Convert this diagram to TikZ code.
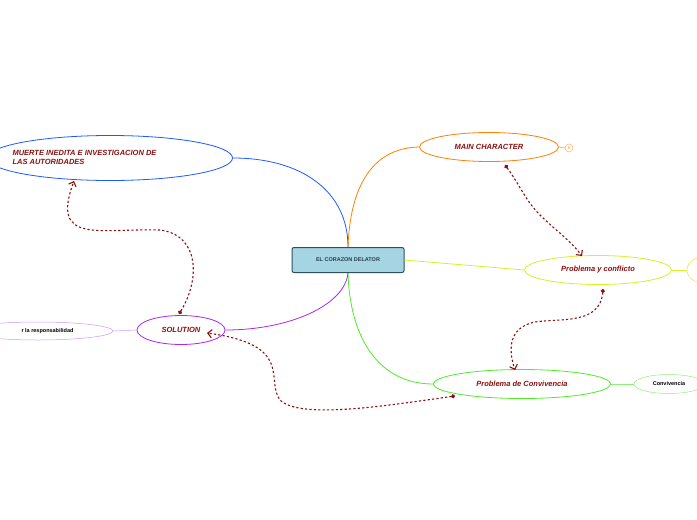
\documentclass[tikz,border=0pt]{standalone}
\usepackage{fontspec}
\setmainfont{Liberation Sans}
\usetikzlibrary{arrows.meta,shapes.geometric}
\definecolor{dred}{HTML}{8B1010}
\definecolor{cblue}{RGB}{30,90,255}
\definecolor{cyel}{RGB}{215,240,40}
\definecolor{cgrn}{RGB}{80,235,40}
\definecolor{clgrn}{RGB}{140,240,120}
\definecolor{cpur}{RGB}{170,40,240}
\definecolor{clpur}{RGB}{210,150,250}
\definecolor{cbord}{RGB}{47,79,95}
\definecolor{cfill}{RGB}{165,213,227}
\definecolor{ctext}{RGB}{40,60,75}
\begin{document}
\begin{tikzpicture}[x=1pt,y=-1pt,
  topic/.style={ellipse,draw,line width=0.8pt,fill=white,font=\bfseries\itshape\fontsize{7.5}{9}\selectfont,text=dred,inner sep=0pt},
  sub/.style={ellipse,draw,line width=0.5pt,fill=white,font=\bfseries\fontsize{5.5}{7}\selectfont,inner sep=0pt},
  br/.style={line width=0.8pt},
  rel/.style={dred,line width=1.1pt,dash pattern=on 2.2pt off 2.2pt,{Circle[length=4pt]}-{Straight Barb[open,length=4pt]}}]
\useasboundingbox (0,0) rectangle (697,520);
\clip (0,0) rectangle (697,520);
\node[draw=cbord,line width=1pt,fill=cfill,rounded corners=2pt,minimum width=112pt,minimum height=25pt,font=\bfseries\fontsize{5.5}{7}\selectfont,text=ctext] (c) at (348,260) {EL CORAZON DELATOR};
\node[topic,draw=cblue,minimum width=245pt,minimum height=45pt] (m) at (110,158) {};
\node[font=\bfseries\itshape\fontsize{7.5}{9}\selectfont,text=dred,align=left,anchor=north west] (mt) at (9,147) {MUERTE INEDITA E INVESTIGACION DE\\LAS AUTORIDADES};
\node[topic,draw=orange,minimum width=139pt,minimum height=29pt] (mc) at (489,147) {MAIN CHARACTER};
\node[draw=orange!60,circle,line width=0.5pt,minimum size=8pt,inner sep=0pt,font=\fontsize{4}{4}\selectfont,text=orange] (mcc) at (569,148) {5};
\node[topic,draw=cyel,minimum width=147pt,minimum height=29pt] (pc) at (598,270) {Problema y conflicto};
\node[sub,draw=cyel,minimum width=40pt,minimum height=28pt] (pcs) at (707,270) {};
\node[topic,draw=cgrn,minimum width=177pt,minimum height=29pt] (pv) at (522,384) {Problema de Convivencia};
\node[sub,draw=clgrn,minimum width=70pt,minimum height=19pt] (cv) at (669,384) {Convivencia};
\node[topic,draw=cpur,minimum width=88pt,minimum height=29pt] (so) at (181,330) {SOLUTION};
\node[sub,draw=clpur,minimum width=150pt,minimum height=18pt] (rs) at (38,331) {};
\node[font=\bfseries\fontsize{5.5}{7}\selectfont,anchor=east] (rst) at (77,331) {r la responsabilidad};
\draw[br,cblue] (c.north) .. controls (348,190) and (300,158) .. (m.east);
\draw[br,orange] (c.north) .. controls (350,190) and (370,148) .. (mc.west);
\draw[br,orange!60] (mc.east) -- (mcc.west);
\draw[br,cyel] (c.east) -- (pc.west);
\draw[br,cyel] (pc.east) -- (pcs.west);
\draw[br,cgrn] (c.south) .. controls (350,340) and (380,384) .. (pv.west);
\draw[clgrn,line width=0.5pt] (pv.east) -- (cv.west);
\draw[br,cpur] (c.south) .. controls (345,305) and (290,330) .. (so.east);
\draw[clpur,line width=0.5pt] (so.west) -- (rs.east);
\draw[rel] (505,165) .. controls (520,185) and (525,200) .. (540,215) .. controls (555,230) and (570,240) .. (582,256);
\draw[rel] (603,289) .. controls (600,325) and (560,318) .. (535,322) .. controls (505,328) and (510,355) .. (515,370);
\draw[rel] (455,396) .. controls (390,405) and (300,420) .. (280,400) .. controls (265,380) and (295,345) .. (207,333);
\draw[rel] (179,314) .. controls (200,280) and (200,235) .. (160,230) .. controls (100,228) and (50,245) .. (74,181);
\end{tikzpicture}
\end{document}
